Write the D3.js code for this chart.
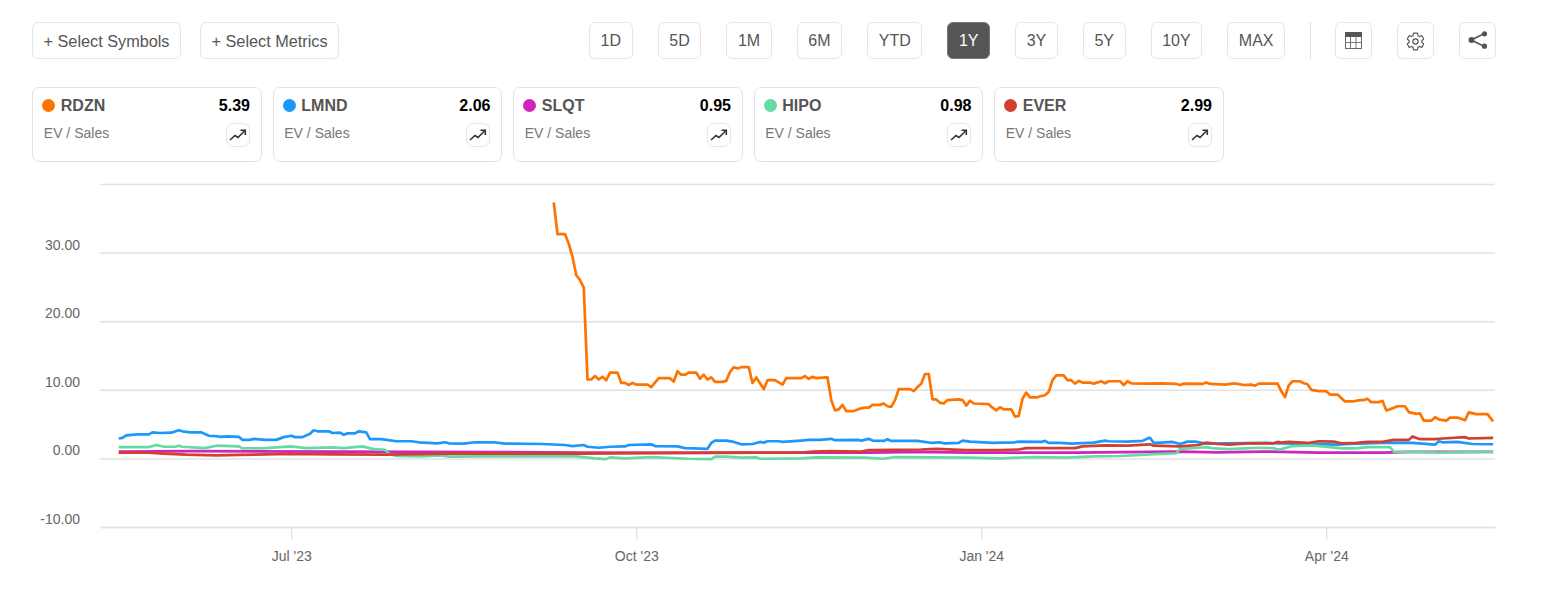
<!DOCTYPE html>
<html>
<head>
<meta charset="utf-8">
<script src="https://cdn.jsdelivr.net/npm/d3@7"></script>
<style>
  html, body { margin: 0; padding: 0; background: #fff; width: 1543px; height: 608px; overflow: hidden; }
  body { position: relative; font-family: "Liberation Sans", Arial, sans-serif; color: #555; }
  .btn { box-sizing: border-box; height: 37px; line-height: 35px; border: 1.5px solid #e6e6e6; border-radius: 6px; font-size: 16px; color: #555; background: #fff; text-align: center; white-space: nowrap; }
  .btn.active { background: #555; color: #fff; border-color: #777; }
  #selects, #ranges { position: absolute; top: 22px; display: flex; }
  #selects { left: 32px; gap: 19px; }
  #selects .btn { padding: 0 10.5px; font-size: 16.25px; line-height: 37px; }
  #ranges { left: 589px; gap: 25px; }
  #ranges .btn { padding: 0 10.6px; }
  #ranges .sep { width: 1px; height: 37px; background: #ddd; }
  #ranges .btn.icon { width: 37px; padding: 0; }
  #ranges .sep + .icon { margin-left: -1px; }
  #ranges .icon svg { display: block; margin: 7px auto 0; }
  #cards { position: absolute; left: 32.3px; top: 87px; display: flex; gap: 10.8px; }
  .card { box-sizing: border-box; position: relative; width: 229.7px; height: 75px; border: 1.5px solid #e2e2e2; border-radius: 7px; }
  .dot { position: absolute; left: 9px; top: 10.5px; width: 13px; height: 13px; border-radius: 50%; }
  .sym { position: absolute; left: 27.5px; top: 9px; font-size: 16px; font-weight: bold; color: #555; }
  .val { position: absolute; right: 11px; top: 9px; font-size: 16px; font-weight: bold; color: #000; }
  .metric { position: absolute; left: 10.5px; top: 37px; font-size: 14px; color: #777; }
  .trend { box-sizing: border-box; position: absolute; right: 11px; top: 35px; width: 24px; height: 24px; border: 1.5px solid #e6e6e6; border-radius: 7px; }
  .trend svg { display: block; margin: 3px 0 0 2px; }
  #chart { position: absolute; left: 0; top: 0; }
  #chart .tick text { font-family: "Liberation Sans", Arial, sans-serif; font-size: 14px; fill: #666; }
</style>
</head>
<body>
<div id="selects"></div>
<div id="ranges"></div>
<div id="cards"></div>
<svg id="chart" width="1543" height="608"></svg>
<script>
var selectLabels = ["+ Select Symbols", "+ Select Metrics"];
var rangeLabels = ["1D", "5D", "1M", "6M", "YTD", "1Y", "3Y", "5Y", "10Y", "MAX"];
var activeRange = "1Y";

var tickers = ["RDZN", "LMND", "SLQT", "HIPO", "EVER"];
var latest = ["5.39", "2.06", "0.95", "0.98", "2.99"];
var colors = ["#ff7300", "#1c98fc", "#d024be", "#66daa3", "#d23f31"];
var metricName = "EV / Sales";

var yTicks = [-10, 0, 10, 20, 30, 40];
// x runs on a session index, the labelled months sit 92 sessions apart
var xTickDays = [46, 138, 230, 322];
var xTickLabels = ["Jul '23", "Oct '23", "Jan '24", "Apr '24"];

var rdznDays = [116,117,119,120,121,122,123,124,125,126,127,128,129,130,131,133,134,135,136,137,138,141,142,144,147,148,149,150,151,152,154,155,156,157,158,159,161,162,163,164,165,166,168,169,170,172,173,175,177,178,182,183,184,185,186,189,190,191,192,193,194,196,198,199,200,201,203,204,205,206,207,208,211,212,213,214,215,216,217,218,219,220,221,224,225,226,227,228,232,233,234,235,236,238,239,240,241,242,243,245,246,247,248,249,250,252,253,254,255,256,257,259,260,262,263,264,267,268,269,270,274,278,282,283,284,289,290,291,295,297,298,300,302,303,304,309,310,311,312,313,315,316,317,318,320,322,323,325,327,329,331,332,333,334,336,337,338,339,341,343,344,346,347,348,350,351,352,354,355,357,359,360,362,365,366.5];
var rdznValues = [37.3,32.7,32.7,31.3,29.4,26.7,26.0,24.9,11.5,11.5,12.0,11.5,11.9,11.4,12.5,12.5,11.0,11.0,10.7,11.0,10.75,10.75,10.4,11.7,11.7,11.2,12.7,12.2,12.2,12.5,12.5,11.6,12.2,11.5,11.8,11.15,11.15,11.3,12.6,13.3,13.1,13.3,13.3,11.0,11.8,10.1,11.4,11.4,10.75,11.7,11.7,12.0,11.6,11.9,11.7,11.8,8.5,7.0,7.15,7.8,6.9,6.9,7.3,7.4,7.4,7.8,7.8,8.0,7.6,7.5,8.5,10.1,10.1,9.8,10.4,10.9,12.3,12.3,8.6,8.6,8.1,8.0,8.5,8.6,8.5,7.7,8.4,8.0,7.9,7.4,7.0,7.45,7.15,7.15,6.1,6.2,8.7,9.6,8.9,8.9,9.1,9.2,9.7,11.4,12.1,12.1,11.4,11.4,10.9,11.3,11.05,11.05,10.9,11.25,10.95,11.25,11.25,10.7,11.25,10.95,10.9,10.95,10.85,10.7,10.9,10.85,11.05,10.85,10.75,10.9,10.9,10.7,10.75,10.6,10.9,10.9,9.8,8.95,10.65,11.25,11.25,10.95,10.8,10.0,9.8,9.8,9.3,9.3,8.3,8.3,8.5,8.5,8.7,8.2,8.2,8.4,7.0,7.15,7.6,7.6,6.75,6.5,6.55,5.5,5.5,6.0,5.7,5.5,5.95,5.95,5.55,6.7,6.45,6.45,5.39];

var lmndDays = [0,1,2,5,8,9,11,14,16,17,19,22,24,26,27,29,32,33,35,36,39,42,44,46,47,49,51,52,53,56,57,59,60,61,63,64,66,67,70,74,78,80,85,87,88,92,95,100,103,113,119,121,124,125,128,131,135,136,142,143,149,151,157,158,159,162,164,166,169,171,172,173,176,177,182,184,187,190,191,197,198,200,201,204,205,206,213,217,219,220,224,225,227,233,239,240,246,247,248,251,254,260,263,264,269,273,274.5,275,276,278,281,283,285,287,290,306,325,328,339,345,351,352,353,357,361,366.5];
var lmndValues = [2.9,3.0,3.35,3.5,3.5,3.8,3.7,3.75,4.1,3.95,3.8,3.8,3.3,3.25,3.15,3.2,3.15,2.7,2.7,2.85,2.7,2.7,3.1,3.3,3.1,3.1,3.6,4.1,3.95,3.95,3.7,3.75,3.45,3.65,3.65,3.95,3.8,2.8,2.8,2.5,2.5,2.35,2.2,2.35,2.2,2.15,2.35,2.35,2.15,2.1,1.95,1.8,1.95,1.7,1.55,1.7,1.75,1.95,2.05,1.8,1.75,1.5,1.4,2.25,2.6,2.6,2.4,2.05,2.1,2.4,2.3,2.5,2.5,2.4,2.6,2.7,2.7,2.85,2.65,2.7,2.6,2.85,2.6,2.55,2.8,2.55,2.55,2.25,2.35,2.2,2.25,2.6,2.45,2.25,2.35,2.45,2.4,2.55,2.25,2.25,2.15,2.3,2.6,2.5,2.45,2.55,2.95,3.0,2.25,2.3,2.4,2.1,2.45,2.45,2.15,2.25,2.0,2.1,2.3,2.25,2.0,2.5,2.35,2.4,2.1,2.06];

var slqtDays = [0,20,60,100,124,159,182,200,214,226,255,275,283,293,305,320,337,345,366.5];
var slqtValues = [0.98,1.05,1.0,0.92,0.85,0.8,0.85,0.85,0.95,0.85,0.85,0.95,0.98,0.88,1.0,0.85,0.85,0.95,0.95];

var hipoDays = [0,8,10,12,15,16,17,23,26,32,33,39,46,50,57,60,65,68,71,72,74,80,86,88,97,122,127,130,131,135,142,152,158,159,162,166,170,171,182,186,199,204,207,226,235,244,253,260,267,274,275,282,283,288,290,292,296,304,308,309,310,313,318,323,326,330,333,339,340,346,352,366.5];
var hipoValues = [1.65,1.65,1.95,1.7,1.7,1.85,1.7,1.5,1.85,1.75,1.45,1.5,1.75,1.5,1.6,1.5,1.75,1.35,1.25,0.7,0.35,0.3,0.45,0.25,0.3,0.3,0,-0.1,0.15,0,0.2,-0.05,-0.1,0.25,0.25,0.1,0.15,-0.05,0,0.15,0.1,-0.05,0.2,0.1,0,0.2,0.1,0.3,0.35,0.55,0.6,0.75,1.4,1.55,1.65,1.45,1.35,1.55,1.5,1.3,1.35,1.8,1.9,1.65,1.45,1.45,1.65,1.65,1.0,0.95,0.85,0.98];

var everDays = [0,8,12,18,26,32,45,57,71,88,124,159,182,185,190,198,200,214,218,226,235,240,242,255,257,263,269,275,276,283,288,290,293,296,301,308,309,310,312,317,320,324,326,330,333,337,340,344,345,347,351,353,359,360,366.5];
var everValues = [0.85,0.82,0.7,0.55,0.45,0.5,0.65,0.6,0.55,0.7,0.7,0.85,0.85,1.0,1.05,1.0,1.2,1.3,1.4,1.2,1.2,1.3,1.5,1.5,1.75,1.9,1.85,2.05,1.85,1.75,1.95,2.3,2.1,2.0,2.2,2.2,2.4,2.3,2.4,2.25,2.5,2.45,2.2,2.25,2.4,2.4,2.7,2.7,3.2,2.8,2.8,2.9,3.1,2.9,2.99];

var seriesDays = [rdznDays, lmndDays, slqtDays, hipoDays, everDays];
var seriesValues = [rdznValues, lmndValues, slqtValues, hipoValues, everValues];

var trendIcon = '<svg width="18" height="16" viewBox="0 0 18 16"><path d="M1 13 L6 8.5 L9 10.5 L15.5 4" fill="none" stroke="#333" stroke-width="1.6"/><path d="M11.5 3.2 H16.3 V8" fill="none" stroke="#333" stroke-width="1.6"/></svg>';
var tableIcon = '<svg width="17" height="17" viewBox="0 0 17 17" style="margin-top:9px"><rect x="0.5" y="0.5" width="16" height="16" fill="#fff" stroke="#666"/><rect x="0" y="0" width="17" height="5" fill="#555"/><path d="M0 10.5 H17 M5.5 5 V17 M11 5 V17" stroke="#777" fill="none"/></svg>';
var gearIcon = '<svg width="21" height="21" viewBox="0 0 24 24" style="margin-top:8px"><path d="M19.14 12.94c.04-.3.06-.61.06-.94 0-.32-.02-.64-.07-.94l2.03-1.58c.18-.14.23-.41.12-.61l-1.92-3.32c-.12-.22-.37-.29-.59-.22l-2.39.96c-.5-.38-1.03-.7-1.62-.94l-.36-2.54c-.04-.24-.24-.41-.48-.41h-3.84c-.24 0-.43.17-.47.41l-.36 2.54c-.59.24-1.13.57-1.62.94l-2.39-.96c-.22-.08-.47 0-.59.22L2.74 8.87c-.12.21-.08.47.12.61l2.03 1.58c-.05.3-.09.63-.09.94s.02.64.07.94l-2.03 1.58c-.18.14-.23.41-.12.61l1.92 3.32c.12.22.37.29.59.22l2.39-.96c.5.38 1.03.7 1.62.94l.36 2.54c.05.24.24.41.48.41h3.84c.24 0 .44-.17.47-.41l.36-2.54c.59-.24 1.13-.56 1.62-.94l2.39.96c.22.08.47 0 .59-.22l1.92-3.32c.12-.22.07-.47-.12-.61l-2.01-1.58z" fill="none" stroke="#555" stroke-width="1.3"/><circle cx="12" cy="12" r="3" fill="none" stroke="#555" stroke-width="1.3"/></svg>';
var shareIcon = '<svg width="20" height="18" viewBox="0 0 20 18" style="margin-top:8px"><path d="M3 9 L16.5 2.5 M3 9 L16.5 15.5" stroke="#555" stroke-width="1.6" fill="none"/><circle cx="3.5" cy="9" r="3" fill="#555"/><circle cx="16.5" cy="2.8" r="2.6" fill="#555"/><circle cx="16.5" cy="15.2" r="2.6" fill="#555"/></svg>';

// toolbar
d3.select("#selects").selectAll("div")
  .data(selectLabels)
  .enter().append("div")
  .attr("class", "btn")
  .text(d => d);

var ranges = d3.select("#ranges");
rangeLabels.forEach(function(r) {
  ranges.append("div")
    .attr("class", r === activeRange ? "btn active" : "btn")
    .text(r);
});
ranges.append("div").attr("class", "sep");
[tableIcon, gearIcon, shareIcon].forEach(function(icon) {
  ranges.append("div").attr("class", "btn icon").html(icon);
});

// symbol cards
var cards = d3.select("#cards").selectAll("div")
  .data(tickers)
  .enter().append("div")
  .attr("class", "card");
cards.append("div").attr("class", "dot").style("background", (d, i) => colors[i]);
cards.append("div").attr("class", "sym").text(d => d);
cards.append("div").attr("class", "val").text((d, i) => latest[i]);
cards.append("div").attr("class", "metric").text(metricName);
cards.append("div").attr("class", "trend").html(trendIcon);

// chart
var margin = { top: 184, right: 48, bottom: 81, left: 100 };
var svgWidth = 1543;
var svgHeight = 608;
var width = svgWidth - margin.left - margin.right;
var height = svgHeight - margin.top - margin.bottom;

var svg = d3.select("#chart");
var chartGroup = svg.append("g")
  .attr("transform", `translate(${margin.left}, ${margin.top})`);

var xScale = d3.scaleLinear().domain([-5, 367]).range([0, width]);
var yScale = d3.scaleLinear().domain([-10, 40]).range([height, 0]);

var leftAxis = d3.axisLeft(yScale)
  .tickValues(yTicks)
  .tickSize(-width)
  .tickPadding(20)
  .tickFormat(d => d === 40 ? "" : d.toFixed(2));

var bottomAxis = d3.axisBottom(xScale)
  .tickValues(xTickDays)
  .tickSize(13)
  .tickSizeOuter(0)
  .tickPadding(11)
  .tickFormat((d, i) => xTickLabels[i]);

var yAxis = chartGroup.append("g").call(leftAxis);
yAxis.select(".domain").remove();
yAxis.selectAll(".tick line").attr("stroke", "#e2e2e2").attr("stroke-width", 1.5);
// value labels sit above their grid lines
yAxis.selectAll(".tick text").attr("y", -8);

var xAxis = chartGroup.append("g")
  .attr("transform", `translate(0, ${height})`)
  .call(bottomAxis);
xAxis.select(".domain").attr("stroke", "#e2e2e2").attr("stroke-width", 1.5);
xAxis.selectAll(".tick line").attr("stroke", "#d8d8d8");

var line = d3.line()
  .x(d => xScale(d[0]))
  .y(d => yScale(d[1]));

tickers.forEach(function(t, i) {
  chartGroup.append("path")
    .datum(d3.zip(seriesDays[i], seriesValues[i]))
    .attr("fill", "none")
    .attr("stroke", colors[i])
    .attr("stroke-width", 2.7)
    .attr("stroke-linejoin", "round")
    .attr("d", line);
});
</script>
</body>
</html>
